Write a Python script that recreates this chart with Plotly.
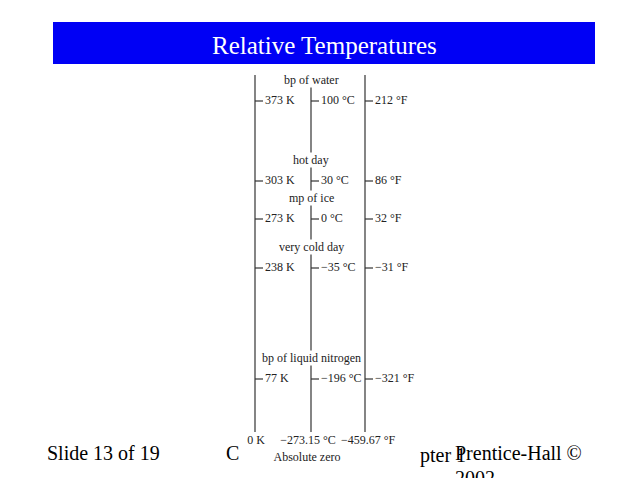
import plotly.graph_objects as go

# Data
events = ['bp of water', 'hot day', 'mp of ice', 'very cold day', 'bp of liquid nitrogen']
kelvin = ['373 K', '303 K', '273 K', '238 K', '77 K']
celsius = ['100 °C', '30 °C', '0 °C', '\u221235 °C', '\u2212196 °C']
fahrenheit = ['212 °F', '86 °F', '32 °F', '\u221231 °F', '\u2212321 °F']
zero_labels = ['0 K', '\u2212273.15 °C', '\u2212459.67 °F']

# Layout (schematic row positions in page pixels)
row_y = [101, 181, 219, 268, 379]
col_x = [255, 311, 365]
SERIF = 'Liberation Serif'
BLUE = '#0000F5'
OFF = 8  # page body margin

fig = go.Figure()

# vertical scale lines
for x in col_x:
    fig.add_trace(go.Scatter(x=[x, x], y=[75, 432], mode='lines',
                             line=dict(color='#333', width=1.2), hoverinfo='skip'))

# tick marks
tx, ty = [], []
for y in row_y:
    for x in col_x:
        tx += [x, x + 8, None]
        ty += [y, y, None]
fig.add_trace(go.Scatter(x=tx, y=ty, mode='lines', line=dict(color='#333', width=1.2), hoverinfo='skip'))

# value labels
for labels, x in zip([kelvin, celsius, fahrenheit], col_x):
    fig.add_trace(go.Scatter(x=[x + 10] * len(labels), y=row_y, mode='text', text=labels,
                             textposition='middle right',
                             textfont=dict(family=SERIF, size=12, color='#222'), hoverinfo='skip'))

annots = []
# event names, with white background breaking the lines
for name, y in zip(events, row_y):
    annots.append(dict(x=311, y=y - 21, xref='x', yref='y', text=name, showarrow=False,
                       bgcolor='white', borderpad=0,
                       font=dict(family=SERIF, size=12, color='#222')))

# absolute zero
fig.add_trace(go.Scatter(x=[256, 308, 368], y=[441] * 3, mode='text', text=zero_labels,
                         textposition='middle center',
                         textfont=dict(family=SERIF, size=12, color='#222'), hoverinfo='skip'))
fig.add_trace(go.Scatter(x=[307], y=[458], mode='text', text=['Absolute zero'],
                         textposition='middle center',
                         textfont=dict(family=SERIF, size=12, color='#222'), hoverinfo='skip'))

big = dict(family=SERIF, size=20, color='black')
annots += [
    dict(x=324, y=45, xref='x', yref='y', text='Relative Temperatures', showarrow=False,
         font=dict(family=SERIF, size=25, color='white')),
    dict(x=45, y=453, xref='x', yref='y', text='Slide 13 of 19', showarrow=False, xanchor='left', font=big),
    dict(x=224, y=453, xref='x', yref='y', text='C', showarrow=False, xanchor='left', font=big),
    dict(x=418, y=455, xref='x', yref='y', text='pter 1', showarrow=False, xanchor='left', font=big),
    dict(x=453, y=453, xref='x', yref='y', text='Prentice-Hall ©', showarrow=False, xanchor='left', font=big),
    dict(x=453, y=478, xref='x', yref='y', text='2002', showarrow=False, xanchor='left', font=big),
]

fig.update_layout(
    width=638, height=478, margin=dict(l=0, r=0, t=0, b=0),
    paper_bgcolor='white', plot_bgcolor='white', showlegend=False,
    xaxis=dict(range=[OFF, 638 + OFF], visible=False, fixedrange=True),
    yaxis=dict(range=[478 + OFF, OFF], visible=False, fixedrange=True),
    shapes=[dict(type='rect', xref='x', yref='y', x0=53, x1=595, y0=22, y1=64,
                 fillcolor=BLUE, line=dict(width=0), layer='below')],
    annotations=annots,
)

fig.write_html('out.html')
